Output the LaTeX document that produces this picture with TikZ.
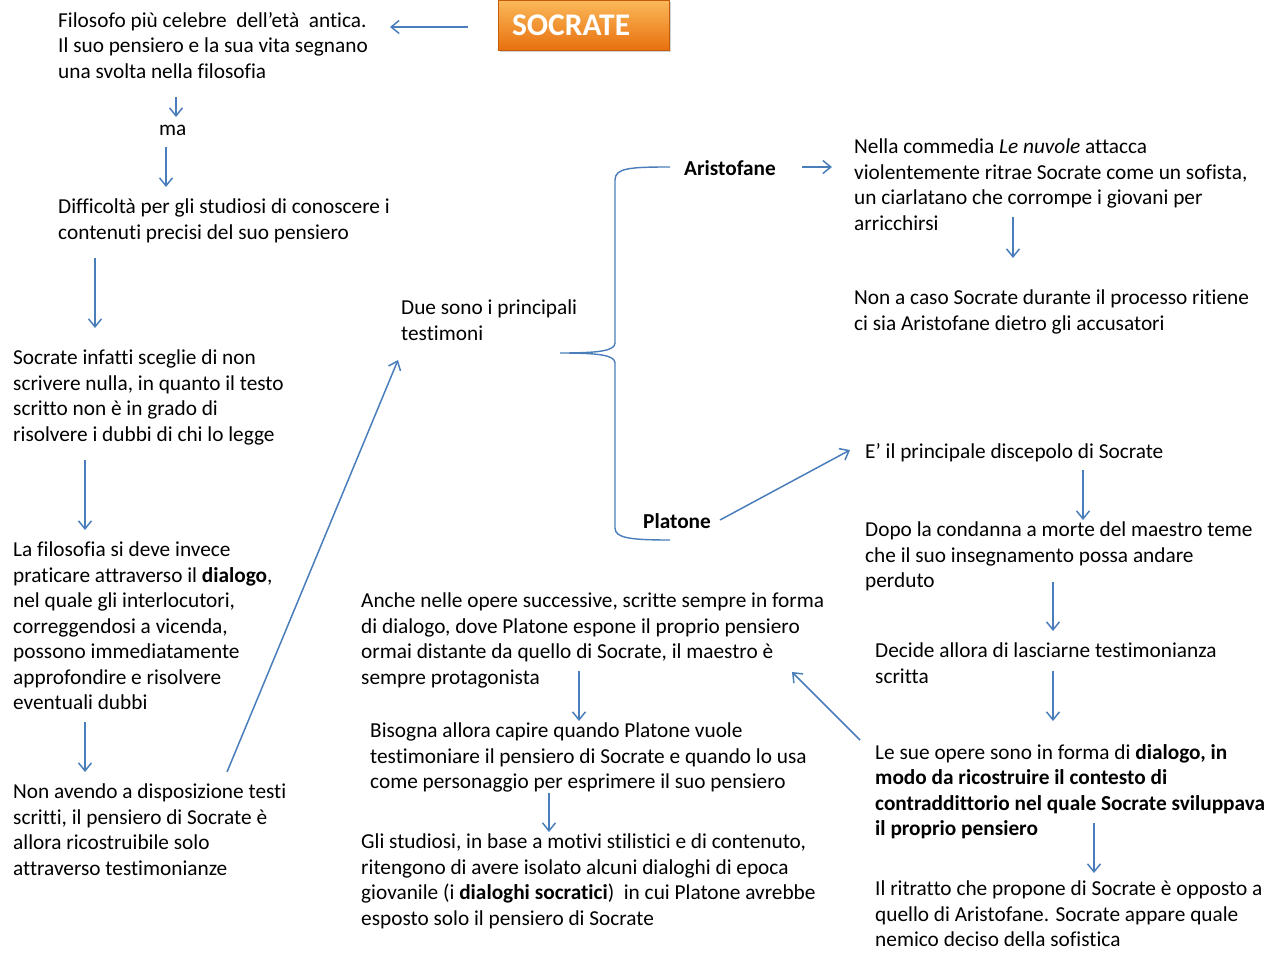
\documentclass[tikz,border=0pt]{standalone}
\usepackage{fontspec}
\setmainfont{Carlito}[Ligatures=NoCommon]
\usetikzlibrary{arrows.meta,shadows}
\definecolor{arr}{HTML}{4A7EBB}
\definecolor{orTop}{HTML}{FBB95A}
\definecolor{orBot}{HTML}{E8700F}
\definecolor{orDraw}{HTML}{C45C0C}
\tikzset{
  txt/.style={anchor=north west, inner sep=0pt, align=left,
    font=\fontsize{21.3}{25.5}\selectfont, execute at begin node=\rule{0pt}{16pt}},
  btxt/.style={txt, font=\fontsize{21.3}{25.5}\selectfont\bfseries},
  conn/.style={draw=arr, line width=1.5pt, -{Straight Barb[length=8pt,width=13pt]}},
  title/.style={draw=orDraw, line width=0.8pt, top color=orTop, bottom color=orBot,
    text=white, font=\fontsize{31.5}{32}\selectfont\bfseries, text width=143pt, align=left,
    inner xsep=14pt, minimum height=50pt, inner ysep=0pt,
    drop shadow={opacity=0.35, shadow xshift=2pt, shadow yshift=-2pt}},
  brace/.style={draw=arr, line width=1.4pt}
}
\begin{document}
\begin{tikzpicture}[x=1pt,y=-1pt]
\useasboundingbox (0,0) rectangle (1280,960);
\fill[white] (0,0) rectangle (1280,960);

\node[title] (soc) at (583.5,25) {\raisebox{-2pt}{SOCRATE}};

\node[txt] (t1) at (58,12) {Filosofo più celebre~ dell’età~ antica.\\Il suo pensiero e la sua vita segnano\\una svolta nella filosofia};
\node[txt] (ma) at (159,119) {ma};
\node[txt] (t3) at (58,199) {Difficoltà per gli studiosi di conoscere i\\contenuti precisi del suo pensiero};
\node[txt] (t4) at (13,350) {Socrate infatti sceglie di non\\scrivere nulla, in quanto il testo\\scritto non è in grado di\\risolvere i dubbi di chi lo legge};
\node[txt] (t5) at (13,542) {La filosofia si deve invece\\praticare attraverso il \textbf{dialogo},\\nel quale gli interlocutori,\\correggendosi a vicenda,\\possono immediatamente\\approfondire e risolvere\\eventuali dubbi};
\node[txt] (t6) at (13,784) {Non avendo a disposizione testi\\scritti, il pensiero di Socrate è\\allora ricostruibile solo\\attraverso testimonianze};
\node[txt] (t7) at (401,300) {Due sono i principali\\testimoni};
\node[btxt] (ari) at (684,159) {Aristofane};
\node[btxt] (pla) at (643,512) {Platone};
\node[txt] (t10) at (854,139) {Nella commedia \textit{Le nuvole} attacca\\violentemente ritrae Socrate come un sofista,\\un ciarlatano che corrompe i giovani per\\arricchirsi};
\node[txt] (t11) at (854,290) {Non a caso Socrate durante il processo ritiene\\ci sia Aristofane dietro gli accusatori};
\node[txt] (t12) at (865,442) {E’ il principale discepolo di Socrate};
\node[txt] (t13) at (865,522) {Dopo la condanna a morte del maestro teme\\che il suo insegnamento possa andare\\perduto};
\node[txt] (t14) at (875,643) {Decide allora di lasciarne testimonianza\\scritta};
\node[txt] (t15) at (875,744) {Le sue opere sono in forma di \textbf{dialogo, in}\\\textbf{modo da ricostruire il contesto di}\\\textbf{contraddittorio nel quale Socrate sviluppava}\\\textbf{il proprio pensiero}};
\node[txt] (t16) at (875,881) {Il ritratto che propone di Socrate è opposto a\\quello di Aristofane. Socrate appare quale\\nemico deciso della sofistica};
\node[txt] (t17) at (361,593) {Anche nelle opere successive, scritte sempre in forma\\di dialogo, dove Platone espone il proprio pensiero\\ormai distante da quello di Socrate, il maestro è\\sempre protagonista};
\node[txt] (t18) at (370,723) {Bisogna allora capire quando Platone vuole\\testimoniare il pensiero di Socrate e quando lo usa\\come personaggio per esprimere il suo pensiero};
\node[txt] (t19) at (361,834) {Gli studiosi, in base a motivi stilistici e di contenuto,\\ritengono di avere isolato alcuni dialoghi di epoca\\giovanile (i \textbf{dialoghi socratici})~ in cui Platone avrebbe\\esposto solo il pensiero di Socrate};

% arrow end points
\coordinate (a1s) at (468,27);   \coordinate (a1e) at (390,27);
\coordinate (a2s) at (176,97);   \coordinate (a2e) at (176,117);
\coordinate (a3s) at (166,147);  \coordinate (a3e) at (166,187);
\coordinate (a4s) at (95,258);   \coordinate (a4e) at (95,328);
\coordinate (a5s) at (85,460);   \coordinate (a5e) at (85,530);
\coordinate (a6s) at (85,722);   \coordinate (a6e) at (85,772);
\coordinate (a7s) at (227,772);  \coordinate (a7e) at (398,360);
\coordinate (a8s) at (802,167);  \coordinate (a8e) at (832,167);
\coordinate (a9s) at (1013,217); \coordinate (a9e) at (1013,258);
\coordinate (a10s) at (720,520); \coordinate (a10e) at (850,450);
\coordinate (a11s) at (1083,470);\coordinate (a11e) at (1083,520);
\coordinate (a12s) at (1053,582);\coordinate (a12e) at (1053,631);
\coordinate (a13s) at (1053,671);\coordinate (a13e) at (1053,721);
\coordinate (a14s) at (1094,823);\coordinate (a14e) at (1094,873);
\coordinate (a15s) at (860,740); \coordinate (a15e) at (792,672);
\coordinate (a16s) at (579,671); \coordinate (a16e) at (579,721);
\coordinate (a17s) at (549,793); \coordinate (a17e) at (549,832);

\foreach \i in {1,...,17} \draw[conn] (a\i s) -- (a\i e);

% brace
\coordinate (bt) at (670,167);
\coordinate (bm) at (560,353);
\coordinate (bb) at (670,540);
\draw[brace] (bt) .. controls (630,167) and (615,168) .. (615,180) -- (615,343)
  .. controls (615,351) and (598,353) .. (bm)
  .. controls (598,353) and (615,355) .. (615,363) -- (615,528)
  .. controls (615,538) and (630,540) .. (bb);
\end{tikzpicture}
\end{document}
